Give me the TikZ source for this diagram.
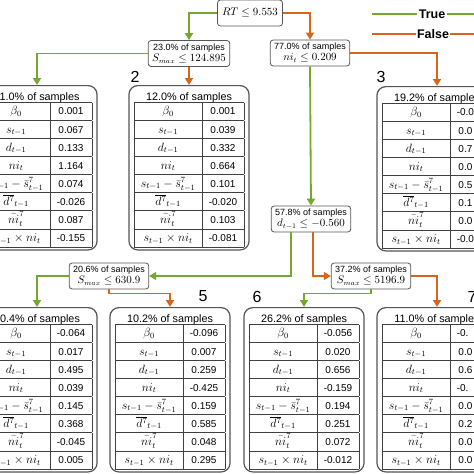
\documentclass[tikz,border=0pt]{standalone}
\usepackage{fontspec}
\setsansfont{Liberation Sans}
\usepackage{amsmath,amssymb}
\usepackage{colortbl}
\usetikzlibrary{positioning,arrows.meta}
\definecolor{truecol}{HTML}{76A830}
\definecolor{falsecol}{HTML}{D6661C}
\definecolor{boxline}{HTML}{555555}
\arrayrulecolor{black!75}
\tikzset{
  split/.style={draw=boxline, line width=0.8pt, rounded corners=3pt, fill=white, align=center, inner xsep=4pt, inner ysep=1.5pt, minimum height=26pt, font=\sffamily\fontsize{9}{11}\selectfont},
  leaf/.style={draw=boxline, line width=1.2pt, rounded corners=9pt, fill=white, inner xsep=5pt, inner ysep=3pt, anchor=north, font=\sffamily\fontsize{10}{12}\selectfont},
  leafnum/.style={font=\sffamily\fontsize{16}{18}\selectfont, inner sep=0pt},
  truearrow/.style={draw=truecol, line width=1.8pt, -{Triangle[length=7pt,width=8pt]}},
  falsearrow/.style={draw=falsecol, line width=1.8pt, -{Triangle[length=7pt,width=8pt]}},
  legline/.style={line width=1.8pt},
  legtext/.style={font=\sffamily\bfseries\fontsize{12.5}{14}\selectfont, fill=white, inner sep=1.5pt}
}
% bigger math inside boxes
\newcommand{\bm}[1]{{\fontsize{12}{14}\selectfont$#1$}}
\newcommand{\sm}[1]{{\fontsize{10.5}{12}\selectfont$#1$}}
% one leaf: share of samples and the eight coefficients
\newcommand{\leaftab}[9]{%
  \renewcommand{\arraystretch}{1.47}%
  \setlength{\tabcolsep}{6.5pt}%
  \begin{tabular}{|c|c|}
    \multicolumn{2}{c}{\fontsize{10.8}{12}\selectfont #1\% of samples}\\[-4pt] \hline
    \bm{\beta_0} & #2\\ \hline
    \bm{s_{t-1}} & #3\\ \hline
    \bm{d_{t-1}} & #4\\ \hline
    \bm{ni_t} & #5\\ \hline
    \bm{s_{t-1}-\bar{s}^{7}_{t-1}} & #6\\ \hline
    \bm{\overline{d^{7}}_{t-1}} & #7\\ \hline
    \bm{\bar{ni}^{7}_{t}} & #8\\ \hline
    \bm{s_{t-1}\times ni_t} & #9\\ \hline
  \end{tabular}}
\newcommand{\cut}[2]{#1\phantom{#2}}
\begin{document}
\begin{tikzpicture}[x=1pt, y=-1pt]
  \useasboundingbox (0,0) rectangle (474,474);
  \clip (0,0) rectangle (474,474);

  % splits
  \node[split, minimum width=65pt] (root) at (250,13) {{\fontsize{11}{12}\selectfont$RT \leq 9.553$}};
  \node[split] (n23) at (189,53.5) {23.0\% of samples\\ \sm{S_{max} \leq 124.895}};
  \node[split] (n77) at (310,53) {77.0\% of samples\\ \sm{ni_t \leq 0.209}};
  \node[split] (n578) at (311,219) {57.8\% of samples\\ \sm{d_{t-1} \leq -0.560}};
  \node[split] (n206) at (109,276) {20.6\% of samples\\ \sm{S_{max} \leq 630.9}};
  \node[split] (n372) at (371,276) {37.2\% of samples\\ \sm{S_{max} \leq 5196.9}};

  % leaves
  \node[leaf] (leaf1) at (37,85) {\leaftab{11.0}{0.001}{0.067}{0.133}{1.164}{0.074}{-0.026}{0.087}{-0.155}};
  \node[leaf] (leaf2) at (189,85) {\leaftab{12.0}{0.001}{0.039}{0.332}{0.664}{0.101}{-0.020}{0.103}{-0.081}};
  \node[leaf] (leaf3) at (437,86) {\leaftab{19.2}{\cut{-0.0}{00}}{\cut{0.0}{00}}{\cut{0.7}{00}}{\cut{0.0}{00}}{\cut{0.5}{00}}{\cut{0.1}{00}}{\cut{0.0}{00}}{\cut{-0.0}{00}}};
  \node[leaf] (leaf4) at (37,307) {\leaftab{10.4}{-0.064}{0.017}{0.495}{0.039}{0.145}{0.368}{-0.045}{0.005}};
  \node[leaf] (leaf5) at (170,307) {\leaftab{10.2}{-0.096}{0.007}{0.259}{-0.425}{0.159}{0.585}{0.048}{0.295}};
  \node[leaf] (leaf6) at (304,307) {\leaftab{26.2}{-0.056}{0.020}{0.656}{-0.159}{0.194}{0.251}{0.072}{-0.012}};
  \node[leaf] (leaf7) at (437,307) {\leaftab{11.0}{\cut{-0.}{000}}{\cut{0.0}{00}}{\cut{0.6}{00}}{\cut{-0.}{000}}{\cut{0.0}{00}}{\cut{0.2}{00}}{\cut{0.0}{00}}{\cut{0.0}{00}}};

  \node[leafnum] (lab2) at (135,77) {2};
  \node[leafnum] (lab3) at (381,77) {3};
  \node[leafnum] (lab5) at (203,296) {5};
  \node[leafnum] (lab6) at (257,297) {6};
  \node[leafnum] (lab7) at (472,297) {7};

  % branches
  \draw[truearrow] (root.west) -| (n23.north);
  \draw[falsearrow] (root.east) -| (n77.north);
  \draw[truearrow] (n23.west) -| (leaf1.north);
  \draw[falsearrow] (n23.south) -- (leaf2.north);
  \draw[falsearrow] (n77.east) -| (leaf3.north);
  \draw[truearrow] (n77.south) -- (n578.north);
  \draw[truearrow] ([xshift=-20pt]n578.south) |- (n206.east);
  \draw[falsearrow] ([xshift=2pt]n578.south) |- (n372.west);
  \draw[truearrow] (n206.west) -| (leaf4.north);
  \draw[falsearrow] (n206.south) -- ++(0,4) -| (leaf5.north);
  \draw[truearrow] (n372.south) -- ++(0,4) -| (leaf6.north);
  \draw[falsearrow] (n372.east) -| (leaf7.north);

  % legend
  \coordinate (ltA) at (372,14);
  \coordinate (ltB) at (480,14);
  \coordinate (lfA) at (372,34);
  \coordinate (lfB) at (480,34);
  \draw[legline, truecol] (ltA) -- (ltB);
  \draw[legline, falsecol] (lfA) -- (lfB);
  \node[legtext] (ltrue) at (432,14) {True};
  \node[legtext] (lfalse) at (433,34) {False};
\end{tikzpicture}
\end{document}
